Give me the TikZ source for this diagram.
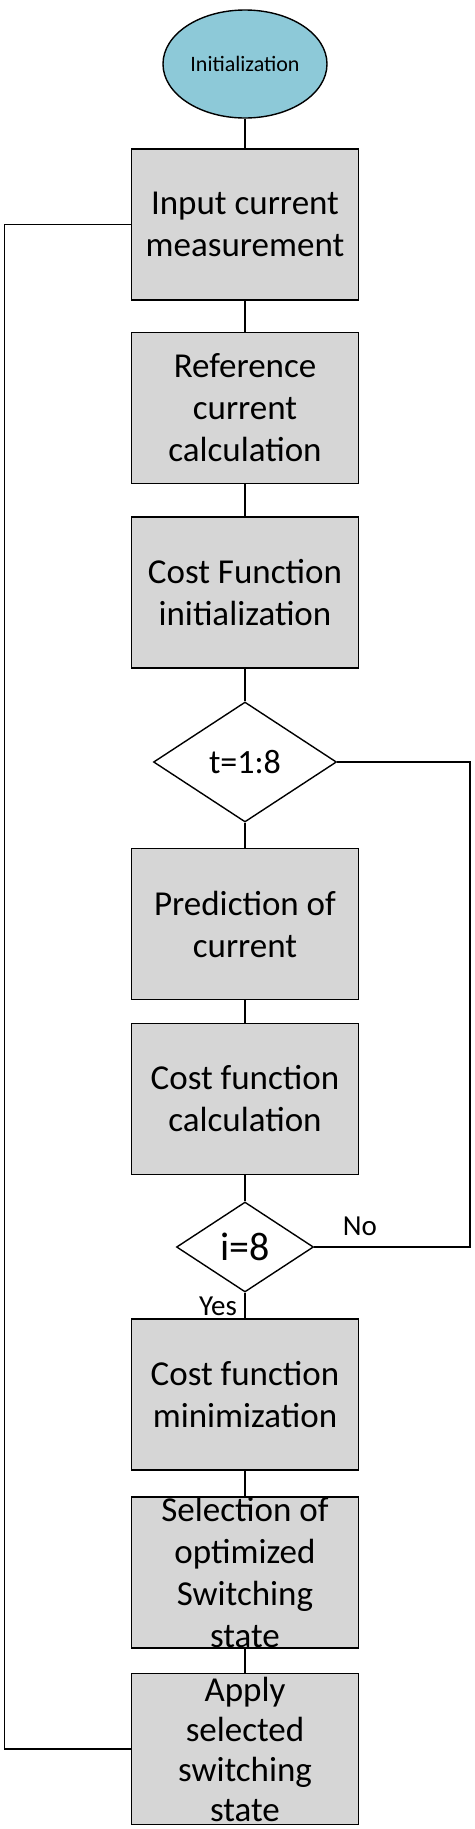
\documentclass[tikz,border=0pt]{standalone}
\usepackage{fontspec}
\setmainfont{Carlito}
\usetikzlibrary{calc,positioning,shapes.geometric}
\definecolor{initblue}{HTML}{8DC9D8}
\definecolor{boxgray}{HTML}{D6D6D6}

\begin{document}
\begin{tikzpicture}[x=1pt,y=-1pt,line width=1.4pt,
  blok/.style={draw,fill=boxgray,minimum width=227pt,minimum height=151pt,inner sep=0pt},
  popis/.style={align=center,inner sep=0pt,font=\fontsize{35}{42}\selectfont},
  rozhod/.style={draw,diamond,fill=white,inner sep=0pt}]
  \useasboundingbox (0,0) rectangle (474,1829);
  \def\cx{245}
  % start a bloky pod sebou; text jako label, at blok neroste
  \node[ellipse,draw,fill=initblue,minimum width=164pt,minimum height=108pt,inner sep=0pt,
        font=\fontsize{22}{26}\selectfont] (init) at (\cx,64) {Initialization};
  \node[blok,label={[popis]center:Input current\\measurement}] (meas) at (\cx,224.5) {};
  \node[blok,label={[popis]center:Reference\\current\\calculation}] (refc) at (\cx,408) {};
  \node[blok,label={[popis]center:Cost Function\\initialization}] (cfinit) at (\cx,592.5) {};
  \node[rozhod,minimum width=183pt,minimum height=120pt,font=\fontsize{34}{40}\selectfont] (loop) at (\cx,762) {t=1:8};
  \node[blok,label={[popis]center:Prediction of\\current}] (pred) at (\cx,924) {};
  \node[blok,label={[popis]center:Cost function\\calculation}] (cfcalc) at (\cx,1099) {};
  \node[rozhod,minimum width=137pt,minimum height=90pt,font=\fontsize{40}{46}\selectfont] (check) at (\cx,1247) {i=8};
  \node[blok,label={[popis]center:Cost function\\minimization}] (cfmin) at (\cx,1394.5) {};
  \node[blok,label={[popis]center:Selection of\\optimized\\Switching\\state}] (sel) at (\cx,1572.5) {};
  \node[blok,label={[popis,font=\fontsize{35}{40}\selectfont]center:Apply\\selected\\switching\\state}] (apply) at (\cx,1749) {};
  % popisky vetveni
  \node[font=\fontsize{29}{34}\selectfont] (ne) at (360,1226) {No};
  \node[font=\fontsize{29}{34}\selectfont] (ano) at (218,1306) {Yes};
  % spojnice bez sipek
  \draw (init) -- (meas);
  \draw (meas) -- (refc);
  \draw (refc) -- (cfinit);
  \draw (cfinit) -- (loop);
  \draw (loop) -- (pred);
  \draw (pred) -- (cfcalc);
  \draw (cfcalc) -- (check);
  \draw (check) -- (cfmin);
  \draw (cfmin) -- (sel);
  \draw (sel) -- (apply);
  % zpetne smycky
  \coordinate (levy) at (4.5,0);
  \coordinate (pravy) at (470,0);
  \draw (apply.west) -- (apply.west -| levy) -- (meas.west -| levy) -- (meas.west);
  \draw (check.east) -- (check.east -| pravy) -- (loop.east -| pravy) -- (loop.east);
\end{tikzpicture}
\end{document}
